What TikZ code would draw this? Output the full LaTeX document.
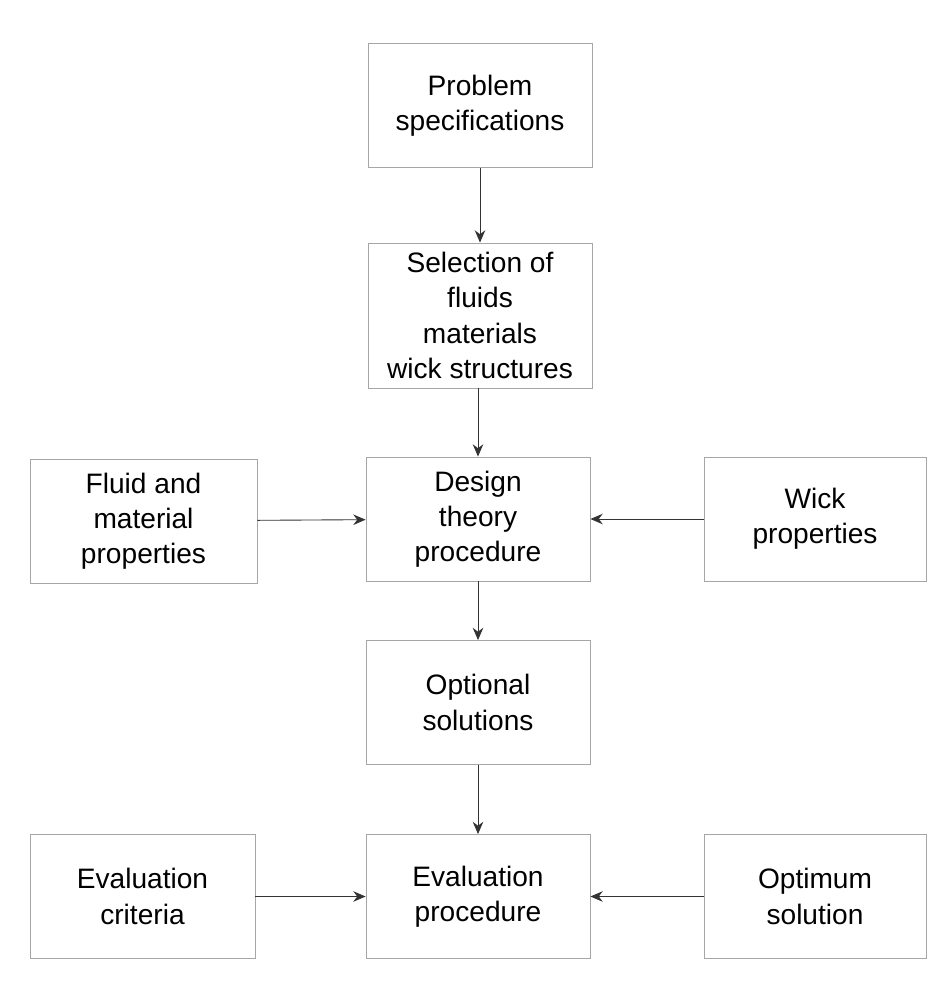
\documentclass[tikz,border=0pt]{standalone}
\usepackage{fontspec}
\setmainfont{Liberation Sans}
\usetikzlibrary{arrows.meta}
\begin{document}
\begin{tikzpicture}[x=0.02cm,y=-0.02cm,
  box/.style={draw=black!35,line width=0.5pt,minimum width=224*0.02cm,minimum height=124*0.02cm,align=center,font=\fontsize{16}{20}\selectfont,inner sep=0pt},
  arr/.style={-{Stealth[length=7pt,width=6pt]},line width=0.5pt,black!80}]
\useasboundingbox (0,0) rectangle (948,983);
\node[box] (ps) at (480,105.5) {Problem\\specifications};
\node[box,minimum height=145*0.02cm] (sel) at (480,315.5) {Selection of\\fluids\\materials\\wick structures};
\node[box] (dt) at (478,519) {Design\\theory\\procedure};
\node[box,minimum width=227*0.02cm] (fm) at (143.5,521) {Fluid and\\material\\properties};
\node[box,minimum width=222*0.02cm] (wp) at (815,519) {Wick\\properties};
\node[box] (os) at (478,702.5) {Optional\\solutions};
\node[box,minimum width=225*0.02cm] (ec) at (142.5,896.5) {Evaluation\\criteria};
\node[box] (ep) at (478,896.5) {Evaluation\\procedure};
\node[box,minimum width=222*0.02cm] (op) at (815,896.5) {Optimum\\solution};
\draw[arr] (ps) -- (sel);
\draw[arr] (sel.south -| dt.north) -- (dt);
\draw[arr] (dt) -- (os);
\draw[arr] (os) -- (ep);
\draw[arr] (fm) -- (dt);
\draw[arr] (wp) -- (dt);
\draw[arr] (ec) -- (ep);
\draw[arr] (op) -- (ep);
\end{tikzpicture}
\end{document}
